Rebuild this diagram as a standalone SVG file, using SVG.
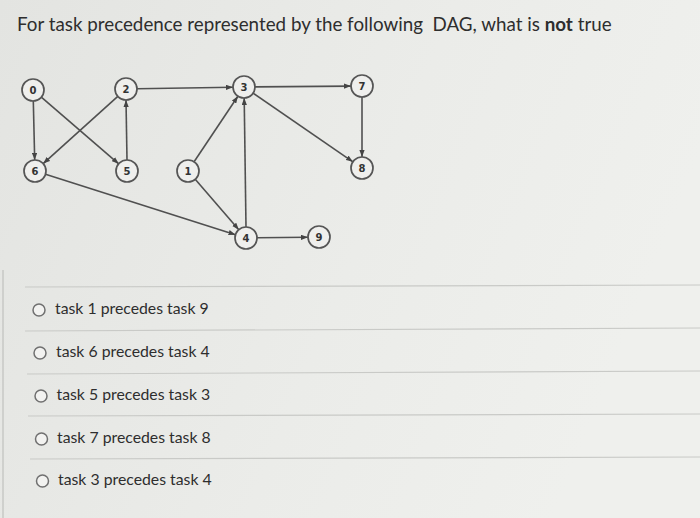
<svg xmlns="http://www.w3.org/2000/svg" width="700" height="518" viewBox="0 0 700 518">
<defs>
<linearGradient id="bg" x1="0" y1="0" x2="1" y2="0.3">
<stop offset="0" stop-color="#e3e4e1"/>
<stop offset="0.6" stop-color="#ebece9"/>
<stop offset="1" stop-color="#eff0ed"/>
</linearGradient>
<marker id="arr" viewBox="0 0 8 6" refX="8" refY="3" markerWidth="7" markerHeight="5.5" markerUnits="userSpaceOnUse" orient="auto">
<path d="M0,0 L8,3 L0,6 Z" fill="#444"/>
</marker>
<style>
.title{font-family:Lato,"Open Sans",sans-serif;font-size:18.8px;fill:#2e2e2e}
.opt{font-family:Lato,"Open Sans",sans-serif;font-size:15.8px;fill:#2e2e2e}
.sep{stroke:#c9cac7;stroke-width:1.2}
.radio{fill:#f2f2f0;stroke:#707070;stroke-width:1.5}
.node circle{fill:#efefed;stroke:#555;stroke-width:1.7}
.node text{font-family:"DejaVu Sans",sans-serif;font-weight:bold;font-size:10px;fill:#333;text-anchor:middle}
.edges line{stroke:#505050;stroke-width:1.6;marker-end:url(#arr)}
</style>
</defs>
<rect x="0" y="0" width="700" height="518" fill="url(#bg)"/>
<line x1="3" y1="270" x2="3" y2="518" stroke="#b8b9b6" stroke-width="1"/>
<text class="title" x="17" y="31">For task precedence represented by the following&#160; DAG, what is <tspan font-weight="bold">not</tspan> true</text>

<g id="connectors" class="edges">
<line x1="33.3" y1="101" x2="34.7" y2="160"/>
<line x1="41.3" y1="97.2" x2="118.7" y2="163.8"/>
<line x1="117.8" y1="96.4" x2="43.2" y2="163.6"/>
<line x1="127" y1="160" x2="126" y2="100"/>
<line x1="137" y1="88.8" x2="233" y2="87.2"/>
<line x1="194.1" y1="161.8" x2="237.9" y2="96.2"/>
<line x1="195.2" y1="179.3" x2="238.8" y2="229.7"/>
<line x1="246" y1="227" x2="244.2" y2="98"/>
<line x1="255" y1="86.9" x2="351" y2="86.1"/>
<line x1="253.1" y1="93.2" x2="352.9" y2="161.8"/>
<line x1="362" y1="97" x2="362" y2="157"/>
<line x1="45.5" y1="174.3" x2="235.5" y2="234.7"/>
<line x1="257" y1="237.8" x2="308" y2="237.2"/>
</g>

<g id="node0" class="node"><circle cx="33" cy="90" r="11"/><text x="33" y="93.6">0</text></g>
<g id="node2" class="node"><circle cx="126" cy="89" r="11"/><text x="126" y="92.6">2</text></g>
<g id="node3" class="node"><circle cx="244" cy="87" r="11"/><text x="244" y="90.6">3</text></g>
<g id="node7" class="node"><circle cx="362" cy="86" r="11"/><text x="362" y="89.6">7</text></g>
<g id="node6" class="node"><circle cx="35" cy="171" r="11"/><text x="35" y="174.6">6</text></g>
<g id="node5" class="node"><circle cx="127" cy="171" r="11"/><text x="127" y="174.6">5</text></g>
<g id="node1" class="node"><circle cx="188" cy="171" r="11"/><text x="188" y="174.6">1</text></g>
<g id="node8" class="node"><circle cx="362" cy="168" r="11"/><text x="362" y="171.6">8</text></g>
<g id="node4" class="node"><circle cx="246" cy="238" r="11"/><text x="246" y="241.6">4</text></g>
<g id="node9" class="node"><circle cx="319" cy="237" r="11"/><text x="319" y="240.6">9</text></g>

<line class="sep" x1="25" y1="287" x2="700" y2="285"/>
<line class="sep" x1="25" y1="331" x2="700" y2="328"/>
<line class="sep" x1="27" y1="374" x2="700" y2="371"/>
<line class="sep" x1="28" y1="416" x2="700" y2="414"/>
<line class="sep" x1="30" y1="459" x2="700" y2="457"/>

<g id="opt1"><circle class="radio" cx="39" cy="310" r="6"/><text class="opt" x="55" y="314">task 1 precedes task 9</text></g>
<g id="opt2"><circle class="radio" cx="40" cy="353" r="6"/><text class="opt" x="56" y="357">task 6 precedes task 4</text></g>
<g id="opt3"><circle class="radio" cx="41" cy="396" r="6"/><text class="opt" x="56.5" y="400">task 5 precedes task 3</text></g>
<g id="opt4"><circle class="radio" cx="41.5" cy="439" r="6"/><text class="opt" x="57" y="443">task 7 precedes task 8</text></g>
<g id="opt5"><circle class="radio" cx="42.5" cy="481" r="6"/><text class="opt" x="58" y="485">task 3 precedes task 4</text></g>
</svg>
